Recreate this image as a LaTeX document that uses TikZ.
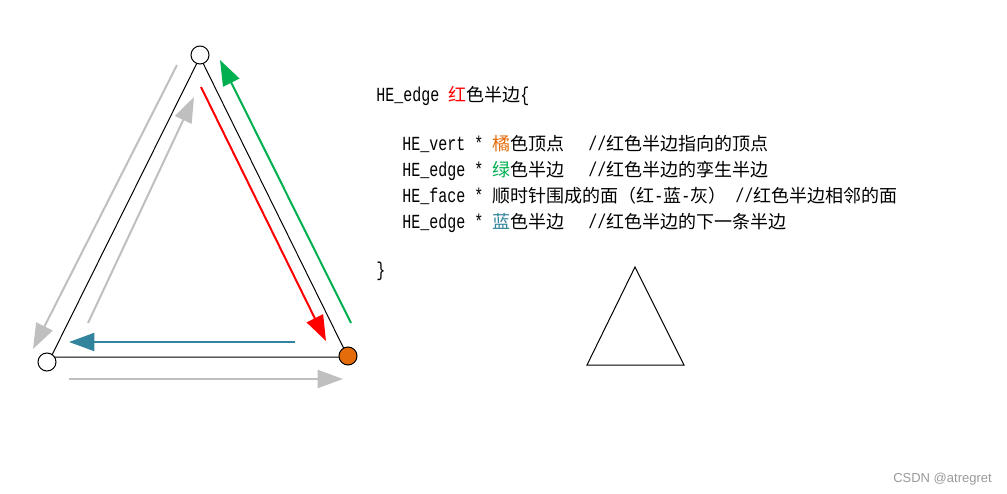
\documentclass[tikz,border=0pt]{standalone}
\usepackage{fontspec}
\setmainfont{Liberation Mono}[FakeStretch=0.75,Scale=1.111]
\newfontfamily\cjk{Noto Sans CJK SC}
\newfontfamily\wmfont{Liberation Sans}
\usetikzlibrary{arrows.meta}
\definecolor{hered}{HTML}{FF0000}
\definecolor{hegreen}{HTML}{00B050}
\definecolor{heblue}{HTML}{31849B}
\definecolor{heorange}{HTML}{E46C0A}
\definecolor{hegray}{HTML}{BFBFBF}
\definecolor{hemark}{HTML}{999999}
\begin{document}
\begin{tikzpicture}[
                        x=0.75pt,y=-0.75pt,
                        >={Triangle[length=19pt,width=13.5pt]},
                        vert/.style={circle,draw,line width=0.75pt,minimum size=13.5pt,inner sep=0pt,fill=white},
                        halfedge/.style={->,line width=1.5pt},
                        code/.style={anchor=base west,inner sep=0pt,font=\fontsize{13.5pt}{16pt}\selectfont}
                    ]
                    \useasboundingbox (0,0) rectangle (1007,493);
                    % Corners
                    \coordinate (A) at (200,57);
                    \coordinate (B) at (51,357);
                    \coordinate (C) at (348,357);
                    \draw [line width=0.75pt] (A) -- (B) -- (C) -- cycle;
                    \node [vert] (top) at (200,55) {};
                    \node [vert] (left) at (47,362) {};
                    \node [vert,fill=heorange] (right) at (348,356) {};

                    % Half edges
                    \coordinate (redS) at (201,87);
                    \coordinate (redE) at (326,341);
                    \coordinate (greenS) at (351,323);
                    \coordinate (greenE) at (220,60);
                    \coordinate (blueS) at (295,342);
                    \coordinate (blueE) at (69,342);
                    \coordinate (outS) at (177,65);
                    \coordinate (outE) at (33,349);
                    \coordinate (inS) at (88,323);
                    \coordinate (inE) at (194,97);
                    \coordinate (botS) at (69,379);
                    \coordinate (botE) at (343,379);

                    % Connections
                    \draw [halfedge,hered] (redS) -- (redE);
                    \draw [halfedge,hegreen] (greenS) -- (greenE);
                    \draw [halfedge,heblue] (blueS) -- (blueE);
                    \draw [halfedge,hegray] (outS) -- (outE);
                    \draw [halfedge,hegray] (inS) -- (inE);
                    \draw [halfedge,hegray] (botS) -- (botE);

                    % Code
                    \node [code] (head) at (376,101) {HE\_edge {\cjk\color{hered}红}{\cjk 色半边}\{};
                    \node [code] (vertline) at (402,150) {HE\_vert * {\cjk\color{heorange}橘}{\cjk 色顶点}};
                    \node [code] (vertnote) at (588,150) {//{\cjk 红色半边指向的顶点}};
                    \node [code] (twinline) at (402,176) {HE\_edge * {\cjk\color{hegreen}绿}{\cjk 色半边}};
                    \node [code] (twinnote) at (588,176) {//{\cjk 红色半边的孪生半边}};
                    \node [code] (faceline) at (402,202) {HE\_face * {\cjk 顺时针围成的面（红}-{\cjk 蓝}-{\cjk 灰）} //{\cjk 红色半边相邻的面}};
                    \node [code] (nextline) at (402,228) {HE\_edge * {\cjk\color{heblue}蓝}{\cjk 色半边}};
                    \node [code] (nextnote) at (588,228) {//{\cjk 红色半边的下一条半边}};
                    \node [code] (tail) at (376,276) {\}};

                    % Face
                    \coordinate (f1) at (635,267);
                    \coordinate (f2) at (587,365);
                    \coordinate (f3) at (684,365);
                    \draw [line width=0.75pt] (f1) -- (f2) -- (f3) -- cycle;

                    \node [anchor=base east,inner sep=0pt,text=hemark,font=\wmfont\fontsize{9.75pt}{11pt}\selectfont] (mark) at (992,482) {CSDN @atregret};
                \end{tikzpicture}
\end{document}
